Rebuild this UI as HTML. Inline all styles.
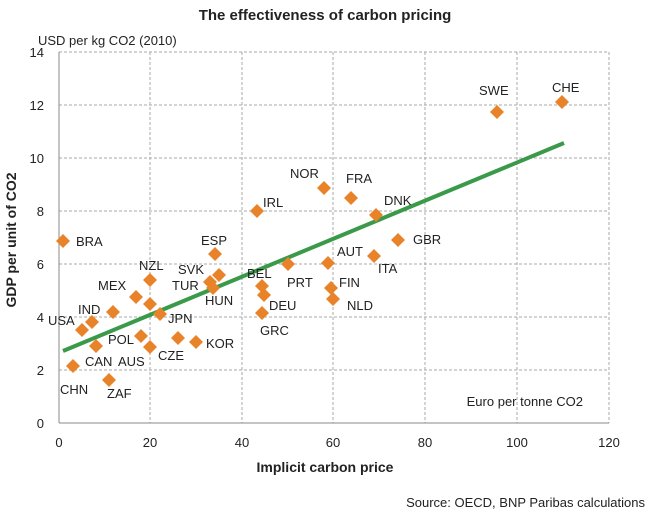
<!DOCTYPE html>
<html><head><meta charset="utf-8"><style>
body{margin:0;background:#fff}
svg text{font-family:"Liberation Sans",Arial,sans-serif;fill:#222}
</style></head><body>
<svg width="650" height="514" xmlns="http://www.w3.org/2000/svg">
<text x="325" y="20" text-anchor="middle" font-size="15" font-weight="bold">The effectiveness of carbon pricing</text>
<text x="38" y="45" font-size="13">USD per kg CO2 (2010)</text>
<g stroke="#aaa" stroke-dasharray="3,2" stroke-width="1">
<line x1="59" y1="52" x2="609" y2="52"/><line x1="59" y1="105" x2="609" y2="105"/><line x1="59" y1="158" x2="609" y2="158"/><line x1="59" y1="211" x2="609" y2="211"/><line x1="59" y1="264" x2="609" y2="264"/><line x1="59" y1="317" x2="609" y2="317"/><line x1="59" y1="370" x2="609" y2="370"/>
<line x1="150" y1="52" x2="150" y2="423"/><line x1="242" y1="52" x2="242" y2="423"/><line x1="333" y1="52" x2="333" y2="423"/><line x1="425" y1="52" x2="425" y2="423"/><line x1="517" y1="52" x2="517" y2="423"/><line x1="609" y1="52" x2="609" y2="423"/>
</g>
<line x1="59" y1="52" x2="59" y2="423" stroke="#888"/>
<line x1="59" y1="423" x2="609" y2="423" stroke="#888"/>
<g font-size="13" text-anchor="end">
<text x="44" y="428">0</text><text x="44" y="375">2</text><text x="44" y="322">4</text><text x="44" y="269">6</text><text x="44" y="216">8</text><text x="44" y="163">10</text><text x="44" y="110">12</text><text x="44" y="57">14</text>
</g>
<g font-size="13" text-anchor="middle">
<text x="59" y="447">0</text><text x="150" y="447">20</text><text x="242" y="447">40</text><text x="333" y="447">60</text><text x="425" y="447">80</text><text x="517" y="447">100</text><text x="609" y="447">120</text>
</g>
<text x="325" y="472" text-anchor="middle" font-size="14" font-weight="bold">Implicit  carbon price</text>
<text transform="translate(16,240) rotate(-90)" text-anchor="middle" font-size="14" font-weight="bold">GDP per unit of CO2</text>
<text x="583" y="406" text-anchor="end" font-size="13">Euro per tonne CO2</text>
<text x="645" y="507" text-anchor="end" font-size="13">Source: OECD, BNP Paribas calculations</text>
<line x1="63" y1="351" x2="564" y2="143" stroke="#3a9a4a" stroke-width="4"/>
<g fill="#e8832a">
<path id="d" d="M0,-7L7,0L0,7L-7,0Z" transform="translate(63,241)"/>
<path d="M0,-7L7,0L0,7L-7,0Z" transform="translate(73,366)"/>
<path d="M0,-7L7,0L0,7L-7,0Z" transform="translate(82,330)"/>
<path d="M0,-7L7,0L0,7L-7,0Z" transform="translate(92,322)"/>
<path d="M0,-7L7,0L0,7L-7,0Z" transform="translate(96,346)"/>
<path d="M0,-7L7,0L0,7L-7,0Z" transform="translate(113,312)"/>
<path d="M0,-7L7,0L0,7L-7,0Z" transform="translate(136,297)"/>
<path d="M0,-7L7,0L0,7L-7,0Z" transform="translate(109,380)"/>
<path d="M0,-7L7,0L0,7L-7,0Z" transform="translate(150,280)"/>
<path d="M0,-7L7,0L0,7L-7,0Z" transform="translate(150,304)"/>
<path d="M0,-7L7,0L0,7L-7,0Z" transform="translate(141,336)"/>
<path d="M0,-7L7,0L0,7L-7,0Z" transform="translate(160,314)"/>
<path d="M0,-7L7,0L0,7L-7,0Z" transform="translate(150,347)"/>
<path d="M0,-7L7,0L0,7L-7,0Z" transform="translate(178,338)"/>
<path d="M0,-7L7,0L0,7L-7,0Z" transform="translate(196,342)"/>
<path d="M0,-7L7,0L0,7L-7,0Z" transform="translate(215,254)"/>
<path d="M0,-7L7,0L0,7L-7,0Z" transform="translate(210,282)"/>
<path d="M0,-7L7,0L0,7L-7,0Z" transform="translate(219,275)"/>
<path d="M0,-7L7,0L0,7L-7,0Z" transform="translate(213,288)"/>
<path d="M0,-7L7,0L0,7L-7,0Z" transform="translate(262,286)"/>
<path d="M0,-7L7,0L0,7L-7,0Z" transform="translate(264,295)"/>
<path d="M0,-7L7,0L0,7L-7,0Z" transform="translate(262,313)"/>
<path d="M0,-7L7,0L0,7L-7,0Z" transform="translate(288,264)"/>
<path d="M0,-7L7,0L0,7L-7,0Z" transform="translate(257,211)"/>
<path d="M0,-7L7,0L0,7L-7,0Z" transform="translate(324,188)"/>
<path d="M0,-7L7,0L0,7L-7,0Z" transform="translate(351,198)"/>
<path d="M0,-7L7,0L0,7L-7,0Z" transform="translate(328,263)"/>
<path d="M0,-7L7,0L0,7L-7,0Z" transform="translate(331,288)"/>
<path d="M0,-7L7,0L0,7L-7,0Z" transform="translate(333,299)"/>
<path d="M0,-7L7,0L0,7L-7,0Z" transform="translate(376,215)"/>
<path d="M0,-7L7,0L0,7L-7,0Z" transform="translate(374,256)"/>
<path d="M0,-7L7,0L0,7L-7,0Z" transform="translate(398,240)"/>
<path d="M0,-7L7,0L0,7L-7,0Z" transform="translate(497,112)"/>
<path d="M0,-7L7,0L0,7L-7,0Z" transform="translate(562,102)"/>
</g>
<g font-size="13">
<text x="76" y="246">BRA</text><text x="60" y="394">CHN</text><text x="48" y="325">USA</text><text x="78" y="314">IND</text>
<text x="85" y="366">CAN</text><text x="118" y="366">AUS</text><text x="107" y="398">ZAF</text><text x="98" y="290">MEX</text>
<text x="139" y="270">NZL</text><text x="108" y="344">POL</text><text x="168" y="323">JPN</text><text x="158" y="360">CZE</text>
<text x="206" y="348">KOR</text><text x="201" y="245">ESP</text><text x="178" y="274">SVK</text><text x="172" y="290">TUR</text>
<text x="205" y="305">HUN</text><text x="247" y="278">BEL</text><text x="269" y="310">DEU</text><text x="260" y="335">GRC</text>
<text x="287" y="287">PRT</text><text x="263" y="207">IRL</text><text x="290" y="178">NOR</text><text x="346" y="183">FRA</text>
<text x="337" y="256">AUT</text><text x="339" y="287">FIN</text><text x="347" y="310">NLD</text><text x="384" y="205">DNK</text>
<text x="378" y="273">ITA</text><text x="413" y="244">GBR</text><text x="479" y="95">SWE</text><text x="552" y="92">CHE</text>
</g>
</svg>
</body></html>
